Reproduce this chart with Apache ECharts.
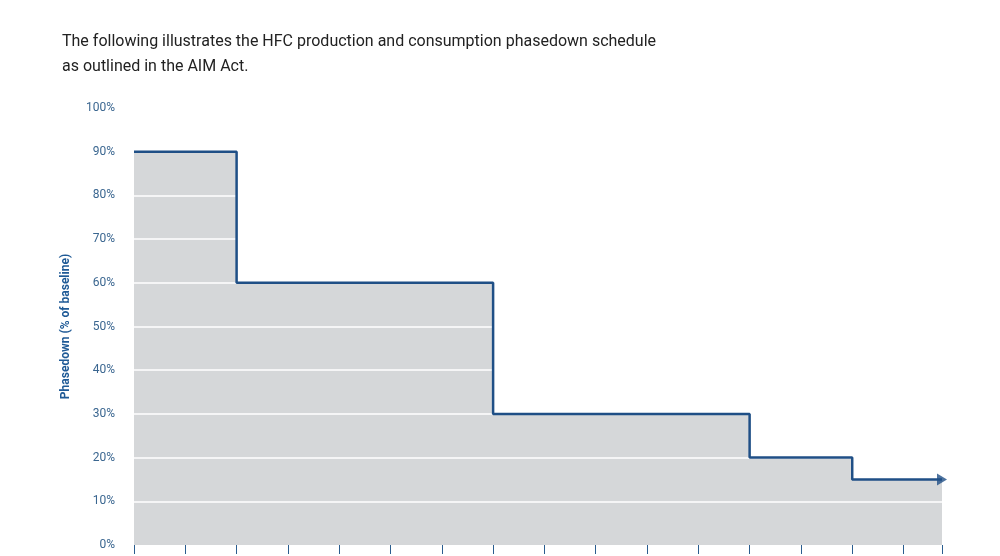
<!DOCTYPE html><html><head><meta charset="utf-8"><script src="https://cdn.jsdelivr.net/npm/echarts@6/dist/echarts.min.js"></script></head><body style="margin:0"><div id="c" style="width:1000px;height:556px"></div><script>
const years=[2022,2024,2029,2034,2036,2037.75];
const values=[90,60,30,20,15,15];
const yTicks=[10,20,30,40,50,60,70,80,90];
const pts=years.map((y,i)=>[y,values[i]]);
const ch=echarts.init(document.getElementById('c'));
ch.setOption({
 animation:false,
 title:{text:'The following illustrates the HFC production and consumption phasedown schedule\nas outlined in the AIM Act.',left:57,top:24,textStyle:{fontFamily:'Roboto',fontSize:16,fontWeight:'normal',color:'#222',lineHeight:25}},
 grid:{left:134,right:58,top:108,bottom:11},
 xAxis:{type:'value',min:2022,max:2037.75,interval:1,axisLine:{show:false},axisTick:{show:true,length:9,inside:false,lineStyle:{color:'#2a5d8f'}},axisLabel:{show:false},splitLine:{show:false}},
 yAxis:{type:'value',min:0,max:100,interval:10,name:'Phasedown (% of baseline)',nameLocation:'middle',nameGap:62,nameTextStyle:{color:'#1f5a96',fontWeight:'bold',fontSize:12,fontFamily:'Roboto'},
  axisLabel:{formatter:'{value}%',color:'#3a6690',fontSize:12,fontFamily:'Roboto',margin:19},axisLine:{show:false},axisTick:{show:false},splitLine:{show:false}},
 series:[
  {type:'line',step:'end',data:pts,symbol:'none',lineStyle:{width:0},areaStyle:{color:'#d5d7d9',opacity:1},z:1,
   markLine:{silent:true,symbol:'none',label:{show:false},lineStyle:{color:'#fff',type:'solid',width:1.5},data:yTicks.map(v=>({yAxis:v}))}},
  {type:'line',step:'end',data:pts,symbol:'none',lineStyle:{color:'#1f4f86',width:2.5},z:5},
  {type:'scatter',data:[pts[pts.length-1]],symbol:'triangle',symbolRotate:-90,symbolSize:[12,10],itemStyle:{color:'#1f4f86'},z:6}
 ]
});
</script></body></html>
